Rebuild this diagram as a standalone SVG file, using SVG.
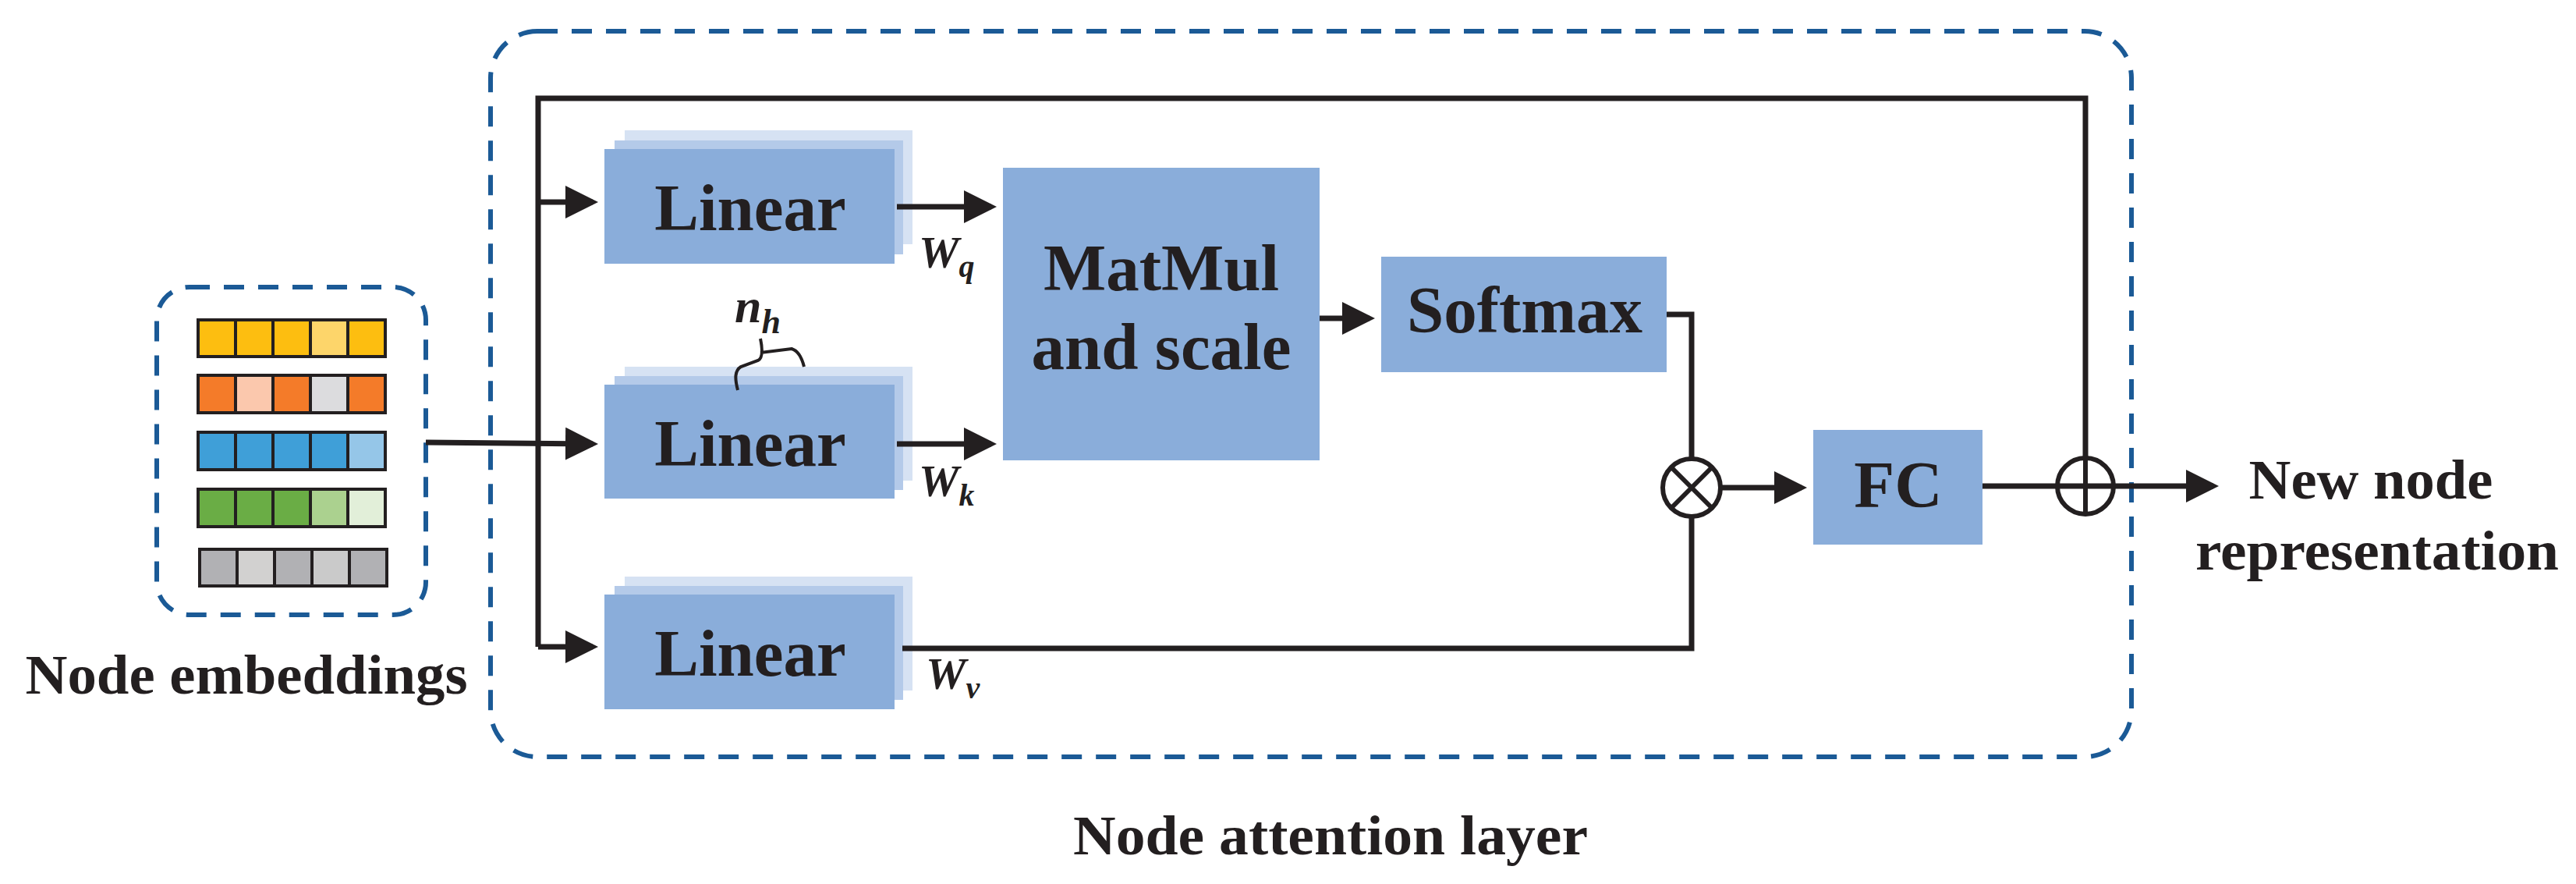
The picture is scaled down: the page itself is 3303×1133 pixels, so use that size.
<svg xmlns="http://www.w3.org/2000/svg" width="3303" height="1133" viewBox="0 0 3303 1133">
<style>
.t{font-family:"Liberation Serif",serif;font-weight:bold;fill:#231F20;text-anchor:middle}
.w{font-family:"Liberation Serif",serif;font-style:italic;font-weight:bold;fill:#231F20}
.box{fill:#8AADDA}
.l2{fill:#B4CAE9}
.l3{fill:#D6E2F3}
.ln{fill:none;stroke:#231F20;stroke-width:7}
.dash{fill:none;stroke:#1B5A96;stroke-width:6;stroke-dasharray:26 18}
.cell{stroke:#231F20;stroke-width:4}
</style>
<defs>
<marker id="ah" markerWidth="6" markerHeight="6" refX="5" refY="3" orient="auto" markerUnits="strokeWidth"><path d="M0,0 L6,3 L0,6 Z" fill="#231F20"/></marker>
</defs>
<rect class="dash" x="629" y="40" width="2104" height="930" rx="60"/>
<rect class="dash" x="201" y="368" width="345" height="420" rx="42"/>
<g id="embeddings">
<g class="cell">
<rect x="254" y="410" width="48" height="47" fill="#FDBE10"/><rect x="302" y="410" width="48" height="47" fill="#FDBE10"/><rect x="350" y="410" width="48" height="47" fill="#FDBE10"/><rect x="398" y="410" width="48" height="47" fill="#FDD56A"/><rect x="446" y="410" width="48" height="47" fill="#FDBE10"/>
<rect x="254" y="481" width="48" height="48" fill="#F47B29"/><rect x="302" y="481" width="48" height="48" fill="#FBC8AD"/><rect x="350" y="481" width="48" height="48" fill="#F47B29"/><rect x="398" y="481" width="48" height="48" fill="#DCDCDE"/><rect x="446" y="481" width="48" height="48" fill="#F47B29"/>
<rect x="254" y="554" width="48" height="48" fill="#3F9FD8"/><rect x="302" y="554" width="48" height="48" fill="#3F9FD8"/><rect x="350" y="554" width="48" height="48" fill="#3F9FD8"/><rect x="398" y="554" width="48" height="48" fill="#3F9FD8"/><rect x="446" y="554" width="48" height="48" fill="#95C6E8"/>
<rect x="254" y="627" width="48" height="48" fill="#6AAD45"/><rect x="302" y="627" width="48" height="48" fill="#6AAD45"/><rect x="350" y="627" width="48" height="48" fill="#6AAD45"/><rect x="398" y="627" width="48" height="48" fill="#ABD18F"/><rect x="446" y="627" width="48" height="48" fill="#E2EFD9"/>
<rect x="256" y="704" width="48" height="47" fill="#B1B1B4"/><rect x="304" y="704" width="48" height="47" fill="#D2D1D0"/><rect x="352" y="704" width="48" height="47" fill="#B1B1B4"/><rect x="400" y="704" width="48" height="47" fill="#CACACA"/><rect x="448" y="704" width="48" height="47" fill="#B1B1B4"/>
</g>
<text class="t" x="316" y="889" font-size="72" textLength="567" lengthAdjust="spacingAndGlyphs">Node embeddings</text>
</g>
<g id="linear_q">
<rect class="l3" x="801" y="167" width="369" height="146"/><rect class="l2" x="788" y="180" width="370" height="146"/><rect class="box" x="775" y="191" width="372" height="147"/>
<text class="t" x="962" y="295" font-size="85">Linear</text>
</g>
<g id="linear_k">
<rect class="l3" x="801" y="470" width="369" height="146"/><rect class="l2" x="788" y="482" width="370" height="146"/><rect class="box" x="775" y="493" width="372" height="146"/>
<text class="t" x="962" y="597" font-size="85">Linear</text>
</g>
<g id="linear_v">
<rect class="l3" x="801" y="739" width="369" height="146"/><rect class="l2" x="788" y="751" width="370" height="146"/><rect class="box" x="775" y="762" width="372" height="147"/>
<text class="t" x="962" y="866" font-size="85">Linear</text>
</g>
<g id="labels">
<text class="w" x="1178" y="343" font-size="58">W<tspan font-size="40" dy="12">q</tspan></text>
<text class="w" x="1178" y="636" font-size="58">W<tspan font-size="40" dy="12">k</tspan></text>
<text class="w" x="1187" y="883" font-size="58">W<tspan font-size="40" dy="12">v</tspan></text>
<text class="w" x="942" y="413" font-size="62">n<tspan font-size="44" dy="14">h</tspan></text>
<path class="ln" style="stroke-width:4" d="M946,500 C942,485 942,475 950,470 L972,462 Q980,458 975,434 M975,452 L1015,447 Q1026,450 1031,470"/>
</g>
<g id="matmul">
<rect class="box" x="1286" y="215" width="406" height="375"/>
<text class="t" x="1489" y="372" font-size="85">MatMul</text>
<text class="t" x="1489" y="473" font-size="85">and scale</text>
</g>
<g id="softmax">
<rect class="box" x="1771" y="329" width="366" height="148"/>
<text class="t" x="1955" y="426" font-size="85">Softmax</text>
</g>
<g id="fc">
<rect class="box" x="2325" y="551" width="217" height="147"/>
<text class="t" x="2434" y="650" font-size="85">FC</text>
</g>
<g id="mult">
<circle class="ln" cx="2169" cy="625" r="37" fill="#fff" style="stroke-width:6"/>
<path class="ln" style="stroke-width:6" d="M2143,599 L2195,651 M2195,599 L2143,651"/>
</g>
<g id="connectors">
<path class="ln" d="M546,567 L760,569" marker-end="url(#ah)"/>
<path class="ln" d="M690,829 L690,126 L2674,126 L2674,586"/>
<path class="ln" d="M690,259 L760,259" marker-end="url(#ah)"/>
<path class="ln" d="M690,829 L760,829" marker-end="url(#ah)"/>
<path class="ln" d="M1150,265 L1271,265" marker-end="url(#ah)"/>
<path class="ln" d="M1150,569 L1271,569" marker-end="url(#ah)"/>
<path class="ln" d="M1692,408 L1756,408" marker-end="url(#ah)"/>
<path class="ln" d="M2137,403 L2169,403 L2169,588"/>
<path class="ln" d="M1157,831 L2169,831 L2169,662"/>
<path class="ln" d="M2206,625 L2310,625" marker-end="url(#ah)"/>
<path class="ln" d="M2542,623 L2838,623" marker-end="url(#ah)"/>
</g>
<g id="add">
<circle class="ln" cx="2674" cy="623" r="36" style="stroke-width:6"/>
<path class="ln" style="stroke-width:6" d="M2674,587 L2674,659"/>
</g>
<text class="t" x="3040" y="639" font-size="72" textLength="313" lengthAdjust="spacingAndGlyphs">New node</text>
<text class="t" x="3048" y="730" font-size="72" textLength="466" lengthAdjust="spacingAndGlyphs">representation</text>
<text class="t" x="1706" y="1095" font-size="72" textLength="660" lengthAdjust="spacingAndGlyphs">Node attention layer</text>
</svg>
